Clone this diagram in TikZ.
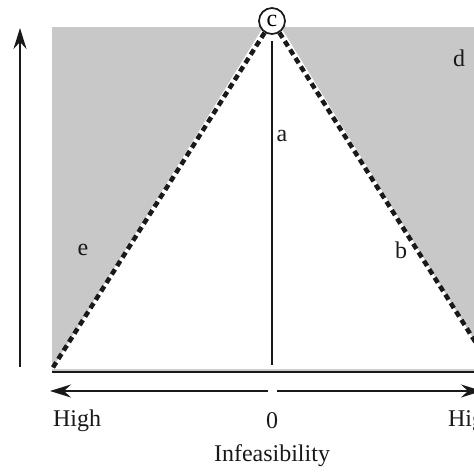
\documentclass[tikz,border=0pt]{standalone}
\usepackage{fontspec}
\setmainfont{Liberation Serif}
\usetikzlibrary{arrows.meta}
\definecolor{regiongray}{RGB}{200,200,200}
\definecolor{ink}{RGB}{25,25,25}
\begin{document}
\begin{tikzpicture}[x=1pt,y=-1pt,
  lbl/.style={font=\fontsize{24}{26}\selectfont, inner sep=0pt, text=ink},
  dashln/.style={line width=4.5pt, dash pattern=on 6pt off 4pt, draw=ink},
  axisln/.style={line width=2pt, draw=ink},
  arr/.style={axisln, -{Stealth[length=21pt,width=13pt,inset=7pt]}},
  thinln/.style={line width=1.3pt, draw=ink}]
\useasboundingbox (0,0) rectangle (474,474);
% shaded region
\fill[regiongray] (52,27) rectangle (474,372);
\fill[white] (52,369) -- (272,13) -- (492,369) -- cycle;
% apex circle
\node[circle, draw=ink, line width=1.7pt, fill=white, minimum size=26pt, inner sep=0pt, font=\fontsize{24}{26}\selectfont] (c) at (272,21) {c};
\coordinate (L) at (52,369);
\coordinate (R) at (476,343);
\draw[dashln] (c) -- (L);
\draw[dashln] (c) -- (R);
% vertical line a
\coordinate (atop) at (272,41);
\coordinate (abot) at (272,365);
\draw[thinln] (atop) -- (abot);
% base line
\coordinate (b0) at (52,372);
\coordinate (b1) at (474,372);
\draw[axisln] (b0) -- (b1);
% lower arrows
\coordinate (g0) at (268,391);
\coordinate (gl) at (50,391);
\coordinate (g1) at (277,391);
\coordinate (gr) at (482,391);
\draw[arr] (g0) -- (gl);
\draw[arr] (g1) -- (gr);
% vertical arrow
\coordinate (v0) at (20,367);
\coordinate (v1) at (20,28);
\draw[arr] (v0) -- (v1);
% labels
\node[lbl] (la) at (282,136) {a};
\node[lbl] (lb) at (401,250) {b};
\node[lbl] (ld) at (459,58) {d};
\node[lbl] (le) at (83,250) {e};
\node[lbl] (hl) at (77,421) {High};
\node[lbl] (z) at (272,421) {0};
\node[lbl] (hr) at (472,421) {High};
\node[lbl] (inf) at (272,456) {Infeasibility};
\end{tikzpicture}
\end{document}
